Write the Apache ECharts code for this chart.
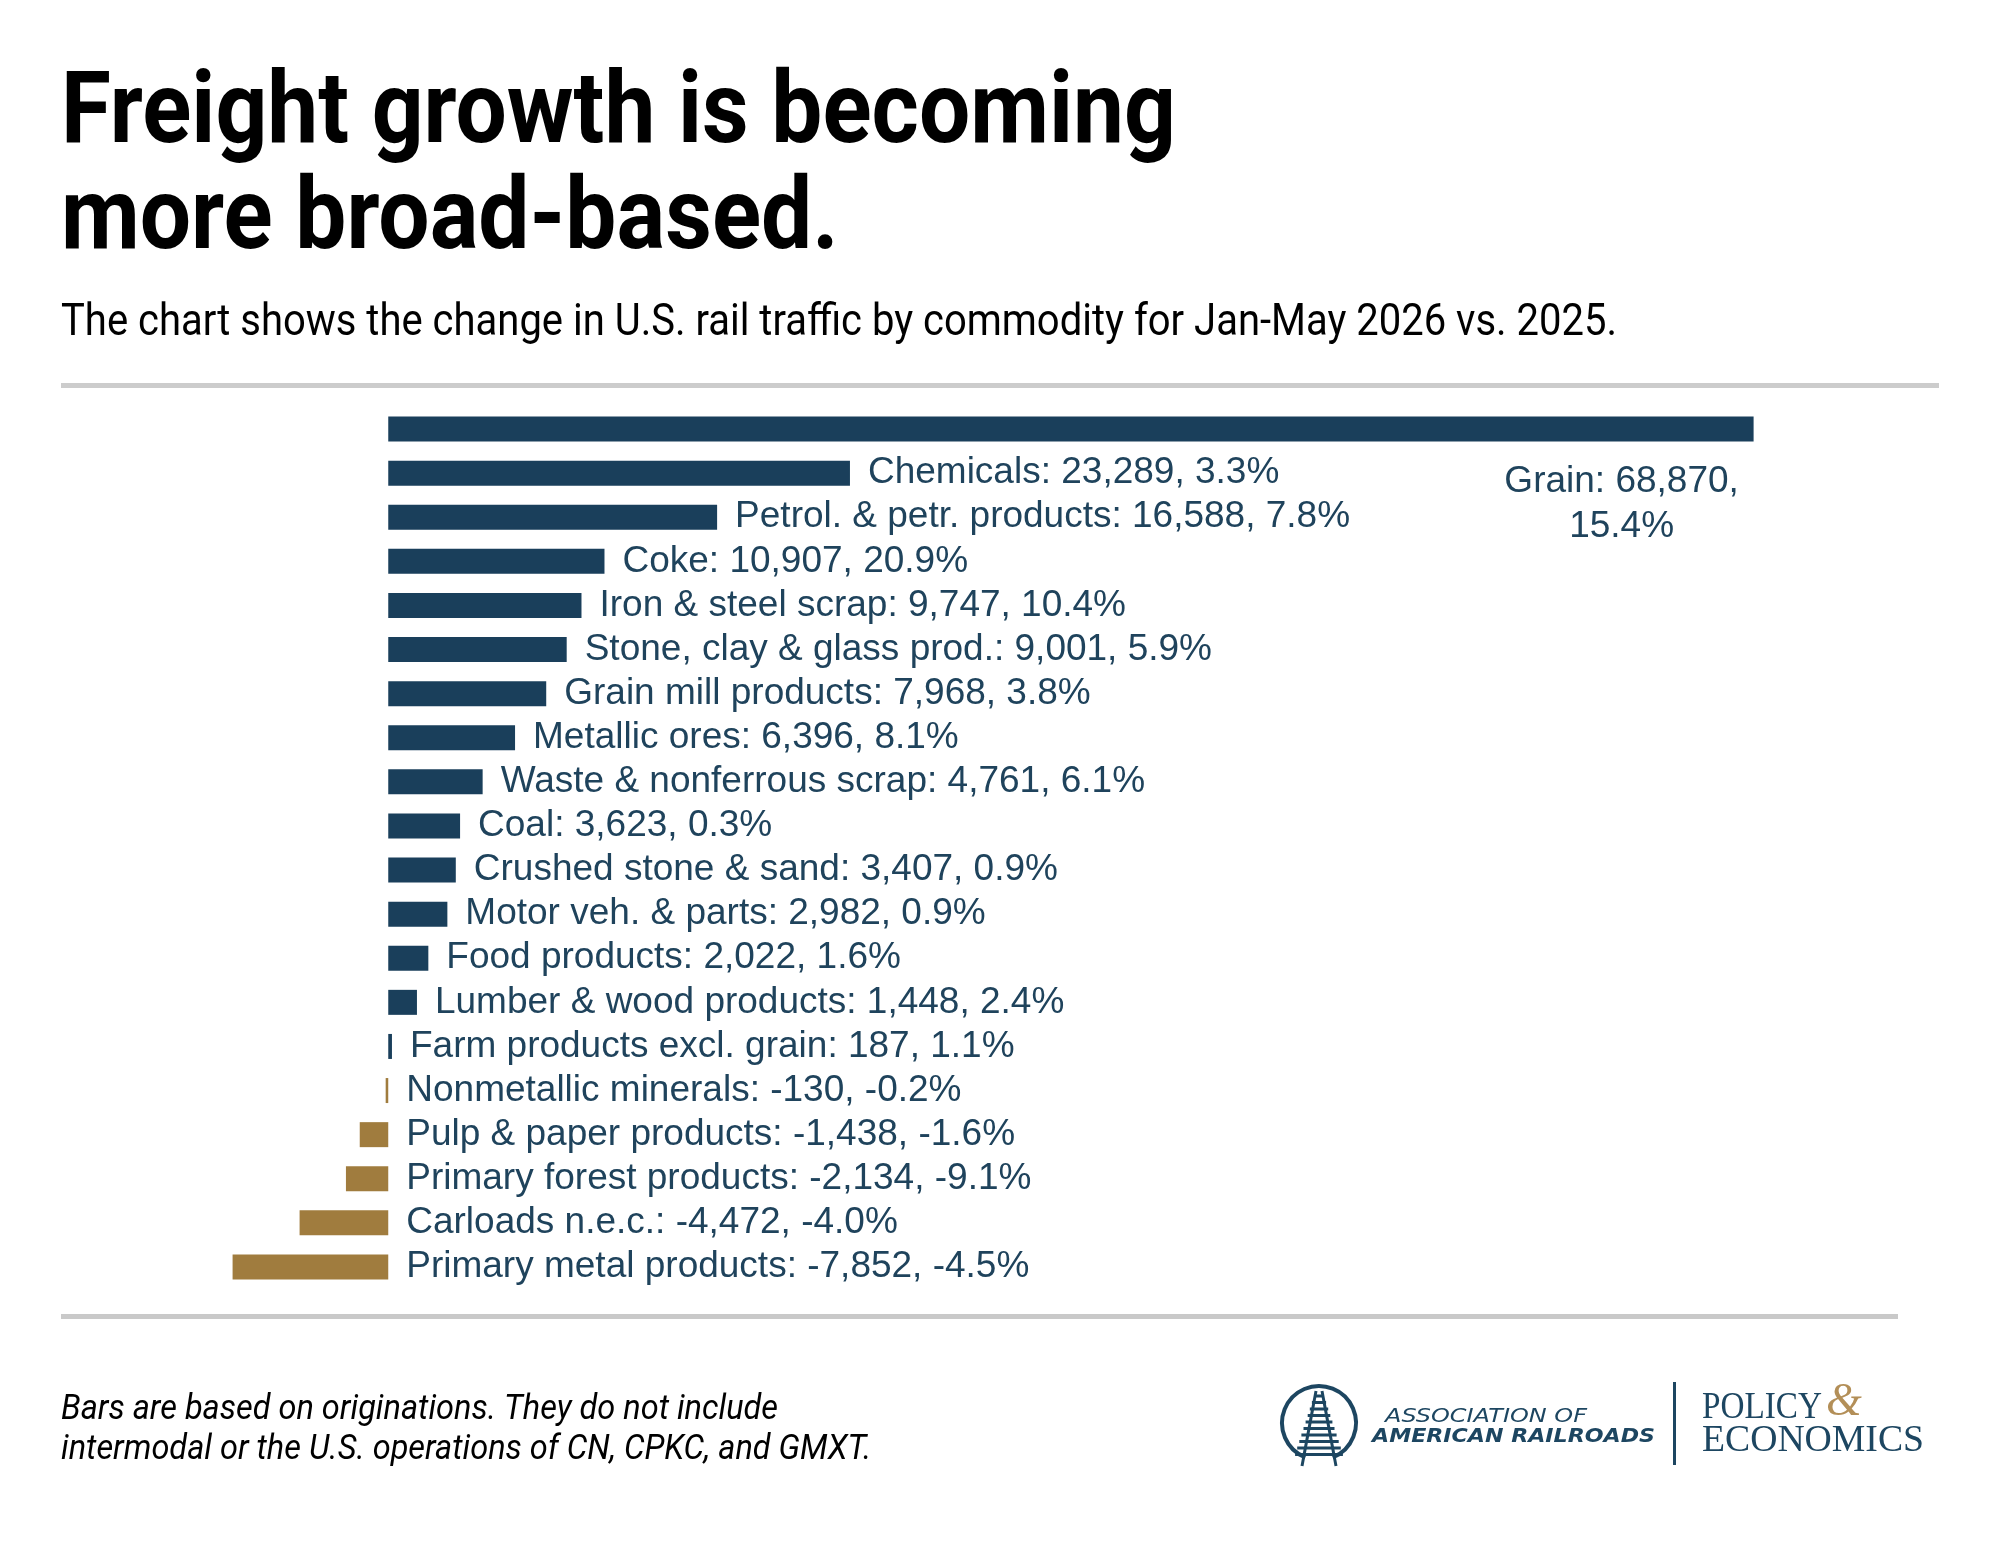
<!DOCTYPE html>
<html>
<head>
<meta charset="utf-8">
<script src="https://cdn.jsdelivr.net/npm/echarts/dist/echarts.min.js"></script>
<style>
  html, body { margin: 0; padding: 0; background: #fff; }
  #chart { width: 2000px; height: 1545px; }
</style>
</head>
<body>
<div id="chart"></div>
<script>
// commodities, top to bottom
var categories = [
  "Grain", "Chemicals", "Petrol. & petr. products", "Coke", "Iron & steel scrap",
  "Stone, clay & glass prod.", "Grain mill products", "Metallic ores",
  "Waste & nonferrous scrap", "Coal", "Crushed stone & sand", "Motor veh. & parts",
  "Food products", "Lumber & wood products", "Farm products excl. grain",
  "Nonmetallic minerals", "Pulp & paper products", "Primary forest products",
  "Carloads n.e.c.", "Primary metal products"
];
// change in carloads, Jan-May 2026 vs 2025
var carloadChange = [
  68870, 23289, 16588, 10907, 9747, 9001, 7968, 6396, 4761, 3623,
  3407, 2982, 2022, 1448, 187, -130, -1438, -2134, -4472, -7852
];
// percent change
var pctChange = [
  15.4, 3.3, 7.8, 20.9, 10.4, 5.9, 3.8, 8.1, 6.1, 0.3,
  0.9, 0.9, 1.6, 2.4, 1.1, -0.2, -1.6, -9.1, -4.0, -4.5
];

var NAVY = "#1a3f5b";
var GOLD = "#a07c3e";
var LABEL = "#1f435c";

// helper to squeeze text horizontally to a target width (condensed look)
var measureCtx = document.createElement("canvas").getContext("2d");
function fit(text, font, width) {
  measureCtx.font = font;
  return width / measureCtx.measureText(text).width;
}

function fmt(v) {
  return v.toLocaleString("en-US");
}

var barData = carloadChange.map(function (v, i) {
  var item = {
    value: v,
    itemStyle: { color: v < 0 ? GOLD : NAVY }
  };
  if (i === 0) {
    // grain label sits under the long bar, two lines
    item.label = {
      position: "right",
      align: "center",
      offset: [-150, 75],
      lineHeight: 45
    };
  }
  return item;
});

var chart = echarts.init(document.getElementById("chart"));

var titleFont = "bold 100px Roboto";
var subFont = "45px Roboto";
var noteFont = "italic 35px Roboto";
var t1 = "Freight growth is becoming";
var t2 = "more broad-based.";
var sub = "The chart shows the change in U.S. rail traffic by commodity for Jan-May 2026 vs. 2025.";
var n1 = "Bars are based on originations. They do not include";
var n2 = "intermodal or the U.S. operations of CN, CPKC, and GMXT.";
var titleScale = fit(t1, titleFont, 1115);
var subScale = fit(sub, subFont, 1556);
var noteScale = fit(n1, noteFont, 717);

function txt(x, y, text, font, scale, fill) {
  return {
    type: "text",
    x: x,
    y: y,
    scaleX: scale || 1,
    style: {
      text: text,
      font: font,
      fill: fill || "#000",
      verticalAlign: "middle"
    }
  };
}

// railroad logo: arch plus a track in perspective
var logoColor = "#1d4661";
var cx = 1319, cy = 1423;
var logo = [
  {
    type: "arc",
    shape: { cx: cx, cy: cy, r: 37, startAngle: 1.95, endAngle: 1.19 + Math.PI * 2, clockwise: true },
    style: { stroke: logoColor, lineWidth: 4, fill: null }
  },
  { type: "line", shape: { x1: cx - 3, y1: 1391, x2: cx - 17, y2: 1466 }, style: { stroke: logoColor, lineWidth: 3 } },
  { type: "line", shape: { x1: cx + 3, y1: 1391, x2: cx + 17, y2: 1466 }, style: { stroke: logoColor, lineWidth: 3 } }
];
for (var k = 0; k < 10; k++) {
  var yy = 1396 + k * 6.5;
  var hw = 5 + k * 2.1;
  logo.push({ type: "line", shape: { x1: cx - hw, y1: yy, x2: cx + hw, y2: yy }, style: { stroke: logoColor, lineWidth: 3 } });
}

var aarFont1 = "italic 19px 'DejaVu Sans'";
var aarFont2 = "italic bold 20px 'DejaVu Sans'";
var peFont = "38px 'Liberation Serif'";

var graphics = [
  txt(61, 117, t1, titleFont, titleScale),
  txt(61, 223, t2, titleFont, titleScale),
  txt(61, 324, sub, subFont, subScale),
  { type: "rect", shape: { x: 61, y: 383, width: 1878, height: 5 }, style: { fill: "#cccccc" } },
  { type: "rect", shape: { x: 61, y: 1314, width: 1837, height: 5 }, style: { fill: "#c9c9c9" } },
  txt(61, 1410, n1, noteFont, noteScale),
  txt(61, 1450, n2, noteFont, noteScale),
  txt(1385, 1417, "ASSOCIATION OF", aarFont1, fit("ASSOCIATION OF", aarFont1, 202), logoColor),
  txt(1372, 1437, "AMERICAN RAILROADS", aarFont2, fit("AMERICAN RAILROADS", aarFont2, 283), logoColor),
  { type: "rect", shape: { x: 1673, y: 1382, width: 3, height: 83 }, style: { fill: logoColor } },
  txt(1702, 1408, "POLICY", peFont, fit("POLICY", peFont, 120), logoColor),
  txt(1826, 1403, "&", "italic 46px 'Liberation Serif'", 1, "#b38f58"),
  txt(1702, 1441, "ECONOMICS", peFont, fit("ECONOMICS", peFont, 222), logoColor)
].concat(logo);

var option = {
  backgroundColor: "#ffffff",
  animation: false,
  grid: { left: 190, right: 224, top: 407, bottom: 256 },
  xAxis: {
    type: "value",
    min: -10000,
    max: 70000,
    show: false
  },
  yAxis: {
    type: "category",
    data: categories,
    inverse: true,
    show: false
  },
  series: [
    {
      type: "bar",
      data: barData,
      barWidth: 25,
      label: {
        show: true,
        position: "right",
        distance: 18,
        color: LABEL,
        fontFamily: "'Liberation Sans', Arial, sans-serif",
        fontSize: 37,
        formatter: function (p) {
          var i = p.dataIndex;
          var sep = i === 0 ? ",\n" : ", ";
          return categories[i] + ": " + fmt(carloadChange[i]) + sep + pctChange[i].toFixed(1) + "%";
        }
      }
    }
  ],
  graphic: graphics
};

chart.setOption(option);
</script>
</body>
</html>
